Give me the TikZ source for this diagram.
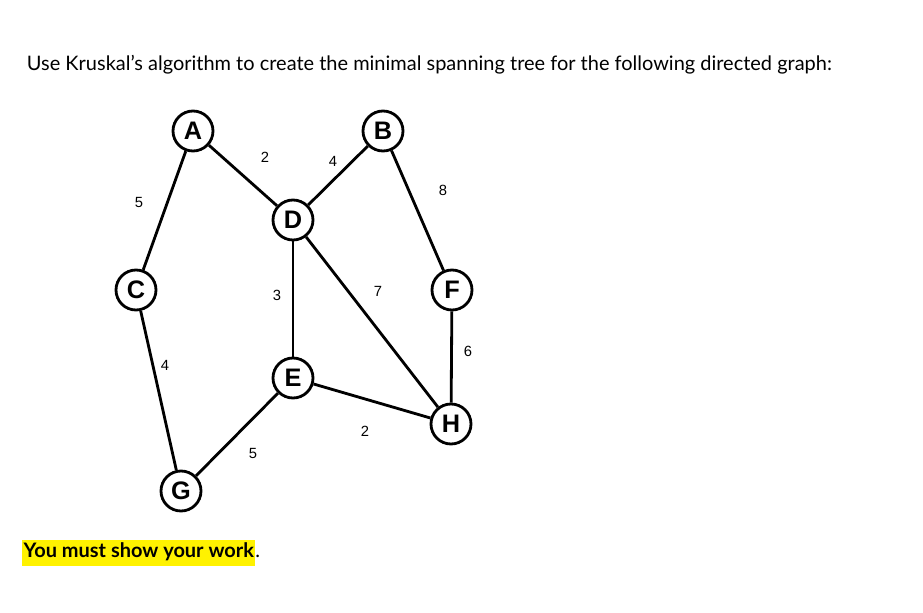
\documentclass[tikz,border=0pt]{standalone}
\usepackage{fontspec}
\setmainfont{Lato}
\newfontfamily\arialf{Liberation Sans}
\begin{document}
\begin{tikzpicture}[x=0.025cm,y=-0.025cm,
  vert/.style={circle,draw,line width=2pt,minimum size=1.0cm,inner sep=0pt,font=\arialf\bfseries\fontsize{18}{18}\selectfont,fill=white},
  edge/.style={line width=2pt},
  wt/.style={font=\arialf\fontsize{10.5}{11}\selectfont}]
\useasboundingbox (0,0) rectangle (923,613);
\node[anchor=west,font=\fontsize{14.2}{16}\selectfont] (title) at (22,65) {Use Kruskal\char"0027 s algorithm to create the minimal spanning tree for the following directed graph:};
\node[vert] (A) at (193,131) {A};
\node[vert] (B) at (383,131) {B};
\node[vert] (D) at (293,220) {D};
\node[vert] (C) at (136,290) {C};
\node[vert] (F) at (452,290) {F};
\node[vert] (E) at (293,378) {E};
\node[vert] (H) at (451,424) {H};
\node[vert] (G) at (181,491) {G};
\draw[edge] (A)--(C);
\draw[edge] (A)--(D);
\draw[edge] (B)--(D);
\draw[edge] (B)--(F);
\draw[edge] (D)--(E);
\draw[edge] (D)--(H);
\draw[edge] (F)--(H);
\draw[edge] (C)--(G);
\draw[edge] (E)--(G);
\draw[edge] (E)--(H);
\node[wt] (w1) at (265,157) {2};
\node[wt] (w2) at (333,161) {4};
\node[wt] (w3) at (443,190) {8};
\node[wt] (w4) at (139,202) {5};
\node[wt] (w5) at (277,295) {3};
\node[wt] (w6) at (378,291) {7};
\node[wt] (w7) at (468,351) {6};
\node[wt] (w8) at (165,365) {4};
\node[wt] (w9) at (365,431) {2};
\node[wt] (w10) at (253,453) {5};
\node[anchor=west,inner sep=0pt,font=\bfseries\fontsize{14.2}{16}\selectfont] (note) at (22,553) {\setlength{\fboxsep}{1pt}\colorbox{yellow}{\strut You must show your work}{\mdseries.}};
\end{tikzpicture}
\end{document}
